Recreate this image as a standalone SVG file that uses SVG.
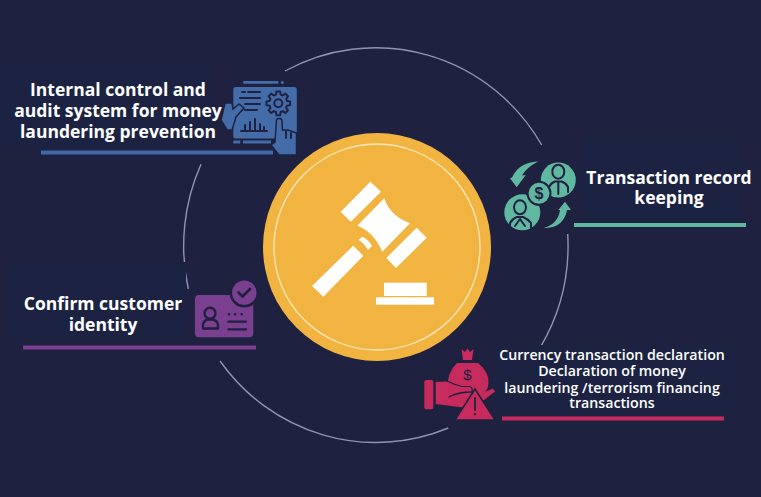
<svg xmlns="http://www.w3.org/2000/svg" width="761" height="497" viewBox="0 0 761 497">
<style>
.t{font-family:"Open Sans","Noto Sans","DejaVu Sans",sans-serif;font-weight:700;fill:#fff;text-anchor:middle}
.l{font-size:17.5px}
.s{font-size:14.2px;font-weight:600}
.p{fill:#1c2342}
.arc{fill:none;stroke:#8d96b4;stroke-width:1.4}
.rule{stroke-width:4}
.d{fill:none;stroke:#1f2141;stroke-width:2;stroke-linecap:round;stroke-linejoin:round}
</style>
<rect width="761" height="497" fill="#1f2141"/>
<g id="connectors">
<path class="arc" d="M285,71 A192.5 197 0 0 1 541.7,145"/>
<path class="arc" d="M567.7,234 A192.5 197 0 0 1 540.7,346.7"/>
<path class="arc" d="M448.3,428 A192.5 197 0 0 1 220,361"/>
<path class="arc" d="M188.3,289 A192.5 197 0 0 1 201,164.3"/>
</g>
<g id="center">
<circle cx="377" cy="247" r="114" fill="#f2b441"/>
<circle cx="377" cy="247" r="103" fill="none" stroke="#fbe8bd" stroke-width="1.3"/>
<g fill="#fff">
<path d="M370.3,181.7 L381,191.7 L350.7,221.7 L340.7,211.7Z"/>
<path d="M416.7,227.7 L426.7,237.7 L396,268 L386.3,258Z"/>
<path d="M384.3,198.3 Q390,216 410,223.3 L382.3,251.7 Q374,232 357.3,225.7Z"/>
<path d="M358.5,240 L362.3,236.7 Q369,240 372,246 L368,250 Q364,243 358.5,240Z"/>
<path d="M353.3,245.7 L363.3,255.7 L323.3,296.7 L312,286Z"/>
<rect x="384" y="282.7" width="42.7" height="13.3"/>
<rect x="376" y="297.3" width="58" height="7.4"/>
</g>
</g>
<g id="node-internal-control">
<rect class="p" x="0" y="64" width="212" height="85"/>
<text class="t l" x="118" y="96">Internal control and</text>
<text class="t l" x="118" y="117">audit system for money</text>
<text class="t l" x="118" y="138">laundering prevention</text>
<line class="rule" x1="41" y1="152.5" x2="273" y2="152.5" stroke="#3f68a8"/>
<g fill="#436ca9">
<rect x="243.3" y="81" width="35" height="2.8"/>
<circle cx="282.3" cy="82.5" r="1.5"/>
<rect x="233.3" y="87" width="63.5" height="51.5" rx="2.5"/>
<rect x="233.3" y="140.5" width="7" height="3"/>
<rect x="243" y="140.5" width="28" height="3"/>
<path d="M221,120 L225,103 L232,103 L233,109 L239,104 L244,108 L236,117 L232,130 L227,130Z" stroke="#1f2141" stroke-width="1.5"/>
<path d="M276.5,120 Q276.5,118.5 279,118.5 Q282,118.500 282,121 L282.5,130 L288,130 L296.5,133 L296.5,155 L279,155 L271,145 L275,142Z" stroke="#1f2141" stroke-width="1.5"/>
</g>
<g class="d">
<path d="M242,92 L245,92 M248,92 L260,92 M240,98 L260,98 M245,104 L260,104 M245,110 L257,110"/>
<path d="M241,131 L267,131 M245,131 L245,125 M250,131 L250,122 M255,131 L255,119 M260,131 L260,124 M264,131 L264,127"/>
<path transform="translate(278.3,103.3)" d="M8.69,-2.33 L11.85,-1.88 11.85,1.88 8.69,2.33 7.79,4.5 9.71,7.05 7.05,9.71 4.5,7.79 2.33,8.69 1.88,11.85 -1.88,11.85 -2.33,8.69 -4.5,7.79 -7.05,9.71 -9.71,7.05 -7.79,4.5 -8.69,2.33 -11.85,1.88 -11.85,-1.88 -8.69,-2.33 -7.79,-4.5 -9.71,-7.05 -7.05,-9.71 -4.5,-7.79 -2.33,-8.69 -1.88,-11.85 1.88,-11.85 2.33,-8.69 4.5,-7.79 7.05,-9.71 9.71,-7.05 7.79,-4.5Z"/>
<circle cx="278.3" cy="103.3" r="4"/>
<path d="M286,131 L286,138 M291,133 L291,138"/>
</g>
</g>
<g id="node-transaction-record">
<rect class="p" x="582" y="136" width="158" height="86"/>
<text class="t l" x="669" y="184">Transaction record</text>
<text class="t l" x="669" y="204">keeping</text>
<line class="rule" x1="574" y1="225" x2="746" y2="225" stroke="#5fb89f"/>
<g fill="#5fb89f">
<circle cx="558.3" cy="180" r="17.5"/>
<circle cx="522.3" cy="212.3" r="18"/>
<path d="M538.5,161.5 C528,162 518,165 512,177.5 L510,178.3 L516.7,187.3 L525.7,175 L522,175.5 C526,169 531,165 538.5,161.5Z"/>
<path d="M543.3,227.8 C553,226 559,219 560,210 L558.3,210 L565,201.7 L571,210 L567,210 C565,222 556,229 543.3,227.8Z"/>
</g>
<g class="d">
<ellipse cx="558.3" cy="171.7" rx="6" ry="7"/>
<path d="M549,192 L549,187 Q551,183 555,181.500 L561.500,181.500 Q566,183 568,187 L568,192 M558.300,183 L558.300,194"/>
<ellipse cx="520" cy="207.3" rx="6" ry="7"/>
<path d="M510,228 L510,223 Q512,219 517,217 L523,217 Q528,219 531,223 L531,228 M520,219 L515,226 M520,219 L525,226"/>
</g>
<circle cx="539" cy="193.3" r="11.500" fill="#5fb89f" stroke="#1f2141" stroke-width="2"/>
<text x="539" y="199" font-family="Liberation Sans,sans-serif" font-size="16" font-weight="700" fill="#1f2141" text-anchor="middle">$</text>
</g>
<g id="node-confirm-identity">
<rect class="p" x="8" y="262" width="178" height="78"/>
<text class="t l" x="103" y="310">Confirm customer</text>
<text class="t l" x="103" y="331">identity</text>
<line class="rule" x1="23" y1="347.500" x2="256" y2="347.500" stroke="#7b3f8f"/>
<g fill="#7b3f8f">
<rect x="195" y="295" width="58.300" height="42.300" rx="4"/>
<circle cx="244.300" cy="292.700" r="13.500" stroke="#1f2141" stroke-width="2.500"/>
</g>
<g class="d">
<path d="M238.500,292.500 L242.500,296.500 L250,289" stroke-width="2.600"/>
<circle cx="210" cy="313.300" r="5.500" stroke-width="2.400"/>
<path d="M203,328.500 L203,324.500 Q204,320 208,319.500 L212,319.500 Q217,320 218,324.500 L218,328.500Z" stroke-width="2.400"/>
<path d="M228.300,321.700 L246,321.700 M228.300,329.300 L246,329.300" stroke-width="2.200"/>
<path d="M229,314.300 L229.100,314.300 M235,314.300 L235.100,314.300 M241.700,314.300 L241.800,314.300" stroke-width="2.500"/>
</g>
</g>
<g id="node-currency-declaration">
<rect class="p" x="495" y="345" width="240" height="70"/>
<text class="t s" x="612" y="360">Currency transaction declaration</text>
<text class="t s" x="612" y="376">Declaration of money</text>
<text class="t s" x="612" y="393">laundering /terrorism financing</text>
<text class="t s" x="612" y="408">transactions</text>
<line class="rule" x1="502" y1="418.500" x2="724" y2="418.500" stroke="#c72a5c"/>
<g fill="#c72a5c">
<rect x="424.300" y="380" width="9" height="29.300" rx="2"/>
<path d="M461.500,349 L465,352 L467.500,348.500 L470,352 L473.500,349 L472,360 L463,360Z"/>
<path d="M457,363 L478,363 Q489,372 488.500,383 Q488,391 482,395 L470,392 L448,386 Q447,373 457,363Z"/>
<path d="M435.700,382 L447,381.500 Q455,385 462,387 L470,387.500 Q473,389 472,392 L480,394 L493,388.500 L495,391.500 L484,400 L470,408 L455,406.500 L435.700,404Z"/>
<path d="M475,389 L495,420 L455,420Z" stroke="#1f2141" stroke-width="1.500"/>
</g>
<g class="d">
<path d="M447,381 Q455,385 462,386.500 L470,386.500 Q473,388 472,392" stroke-width="1.200"/>
<path d="M449,397 Q458,392 472,392" stroke-width="1.300"/>
<path d="M475,398 L475,410" stroke-width="1.800"/>
<path d="M475,414 L475,414.100" stroke-width="2.200"/>
</g>
<text x="467.500" y="380" font-family="Liberation Sans,sans-serif" font-size="15" fill="#1f2141" text-anchor="middle">$</text>
</g>
</svg>
